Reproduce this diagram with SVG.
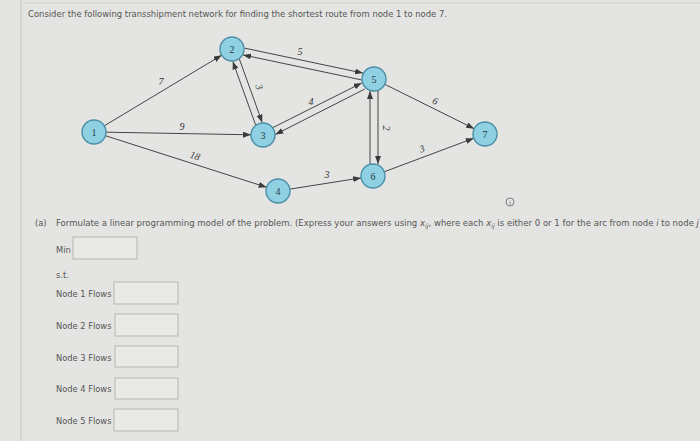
<svg xmlns="http://www.w3.org/2000/svg" width="700" height="441" viewBox="0 0 700 441">
<defs>
<marker id="arr" markerUnits="userSpaceOnUse" markerWidth="8" markerHeight="6" refX="8" refY="3" orient="auto">
<path d="M0,0 L8,3 L0,6 z" fill="#3a3a3a"/>
</marker>
<style>
.txt{font-family:"DejaVu Sans","Liberation Sans",sans-serif;font-size:8.3px;fill:#555}
.edge{stroke:#444;stroke-width:1;fill:none;marker-end:url(#arr)}
.node circle{fill:#8fd0e3;stroke:#4b8ea6;stroke-width:1.4}
.node text{font-family:"Liberation Serif",serif;font-size:10px;fill:#2a3a44;text-anchor:middle}
.lbl{font-family:"Liberation Serif",serif;font-style:italic;font-size:10px;fill:#333;text-anchor:middle}
.box{fill:#e9eae7;stroke:#b5b5b3;stroke-width:1}
</style>
</defs>
<rect width="700" height="441" fill="#e4e5e2"/>
<line x1="21" y1="0" x2="21" y2="441" stroke="#c4c5c2" stroke-width="1"/>
<line x1="21" y1="3" x2="700" y2="3" stroke="#d2d3d0" stroke-width="1"/>
<text class="txt" x="28" y="17" textLength="419" lengthAdjust="spacingAndGlyphs">Consider the following transshipment network for finding the shortest route from node 1 to node 7.</text>

<g id="connectors">
<line class="edge" x1="104.3" y1="125.8" x2="221.7" y2="55.2"/>
<line class="edge" x1="106" y1="132.2" x2="251" y2="134.8"/>
<line class="edge" x1="105.4" y1="135.7" x2="266.6" y2="187.3"/>
<line class="edge" x1="244.5" y1="48.1" x2="363" y2="73.1"/>
<line class="edge" x1="361.5" y1="79.9" x2="243" y2="54.9"/>
<line class="edge" x1="239.4" y1="59.1" x2="262.2" y2="122.5"/>
<line class="edge" x1="255.6" y1="124.9" x2="232.8" y2="61.5"/>
<line class="edge" x1="272.1" y1="128" x2="361.7" y2="83"/>
<line class="edge" x1="364.9" y1="89" x2="275.3" y2="134.5"/>
<line class="edge" x1="370" y1="165" x2="370" y2="91"/>
<line class="edge" x1="378" y1="90" x2="378" y2="164"/>
<line class="edge" x1="289.9" y1="189.1" x2="361.1" y2="177.9"/>
<line class="edge" x1="384.8" y1="84.3" x2="474.2" y2="128.7"/>
<line class="edge" x1="384.2" y1="171.8" x2="473.8" y2="138.2"/>
<text class="lbl" x="161" y="85">7</text>
<text class="lbl" x="182" y="130">9</text>
<text class="lbl" transform="translate(194,159) rotate(18)">18</text>
<text class="lbl" transform="translate(256,88) rotate(70)">3</text>
<text class="lbl" x="300" y="55">5</text>
<text class="lbl" x="311" y="105">4</text>
<text class="lbl" transform="translate(383,128) rotate(90)">2</text>
<text class="lbl" transform="translate(434,104) rotate(20)">6</text>
<text class="lbl" transform="translate(423,152) rotate(-20)">3</text>
<text class="lbl" x="327" y="178">3</text>
</g>

<g id="node1" class="node"><circle cx="94" cy="132" r="12"/><text x="94" y="135.5">1</text></g>
<g id="node2" class="node"><circle cx="232" cy="49" r="12"/><text x="232" y="52.5">2</text></g>
<g id="node3" class="node"><circle cx="263" cy="135" r="12"/><text x="263" y="138.5">3</text></g>
<g id="node4" class="node"><circle cx="278" cy="191" r="12"/><text x="278" y="194.5">4</text></g>
<g id="node5" class="node"><circle cx="374" cy="79" r="12"/><text x="374" y="82.5">5</text></g>
<g id="node6" class="node"><circle cx="373" cy="176" r="12"/><text x="373" y="179.5">6</text></g>
<g id="node7" class="node"><circle cx="485" cy="134" r="12"/><text x="485" y="137.5">7</text></g>

<g id="info">
<circle cx="510" cy="202" r="4" fill="none" stroke="#666" stroke-width="0.8"/>
<text x="510" y="204.5" style="font-family:'DejaVu Sans',sans-serif;font-size:6px;fill:#555;text-anchor:middle">i</text>
</g>

<text class="txt" x="35" y="226">(a)</text>
<text class="txt" x="56" y="226" textLength="643" lengthAdjust="spacingAndGlyphs">Formulate a linear programming model of the problem. (Express your answers using <tspan font-style="italic">x</tspan><tspan font-style="italic" font-size="6" dy="2">ij</tspan><tspan dy="-2">, where each </tspan><tspan font-style="italic">x</tspan><tspan font-style="italic" font-size="6" dy="2">ij</tspan><tspan dy="-2"> is either 0 or 1 for the arc from node </tspan><tspan font-style="italic">i</tspan> to node <tspan font-style="italic">j</tspan></text>

<text class="txt" x="56" y="253">Min</text>
<rect class="box" x="73" y="237" width="64" height="22"/>
<text class="txt" x="56" y="278">s.t.</text>
<text class="txt" x="56" y="297">Node 1 Flows</text>
<rect class="box" x="114" y="282" width="64" height="22"/>
<text class="txt" x="56" y="329">Node 2 Flows</text>
<rect class="box" x="115" y="314" width="63" height="22"/>
<text class="txt" x="56" y="361">Node 3 Flows</text>
<rect class="box" x="115" y="346" width="63" height="21"/>
<text class="txt" x="56" y="392">Node 4 Flows</text>
<rect class="box" x="115" y="378" width="63" height="21"/>
<text class="txt" x="56" y="424">Node 5 Flows</text>
<rect class="box" x="114" y="409" width="64" height="22"/>
</svg>
